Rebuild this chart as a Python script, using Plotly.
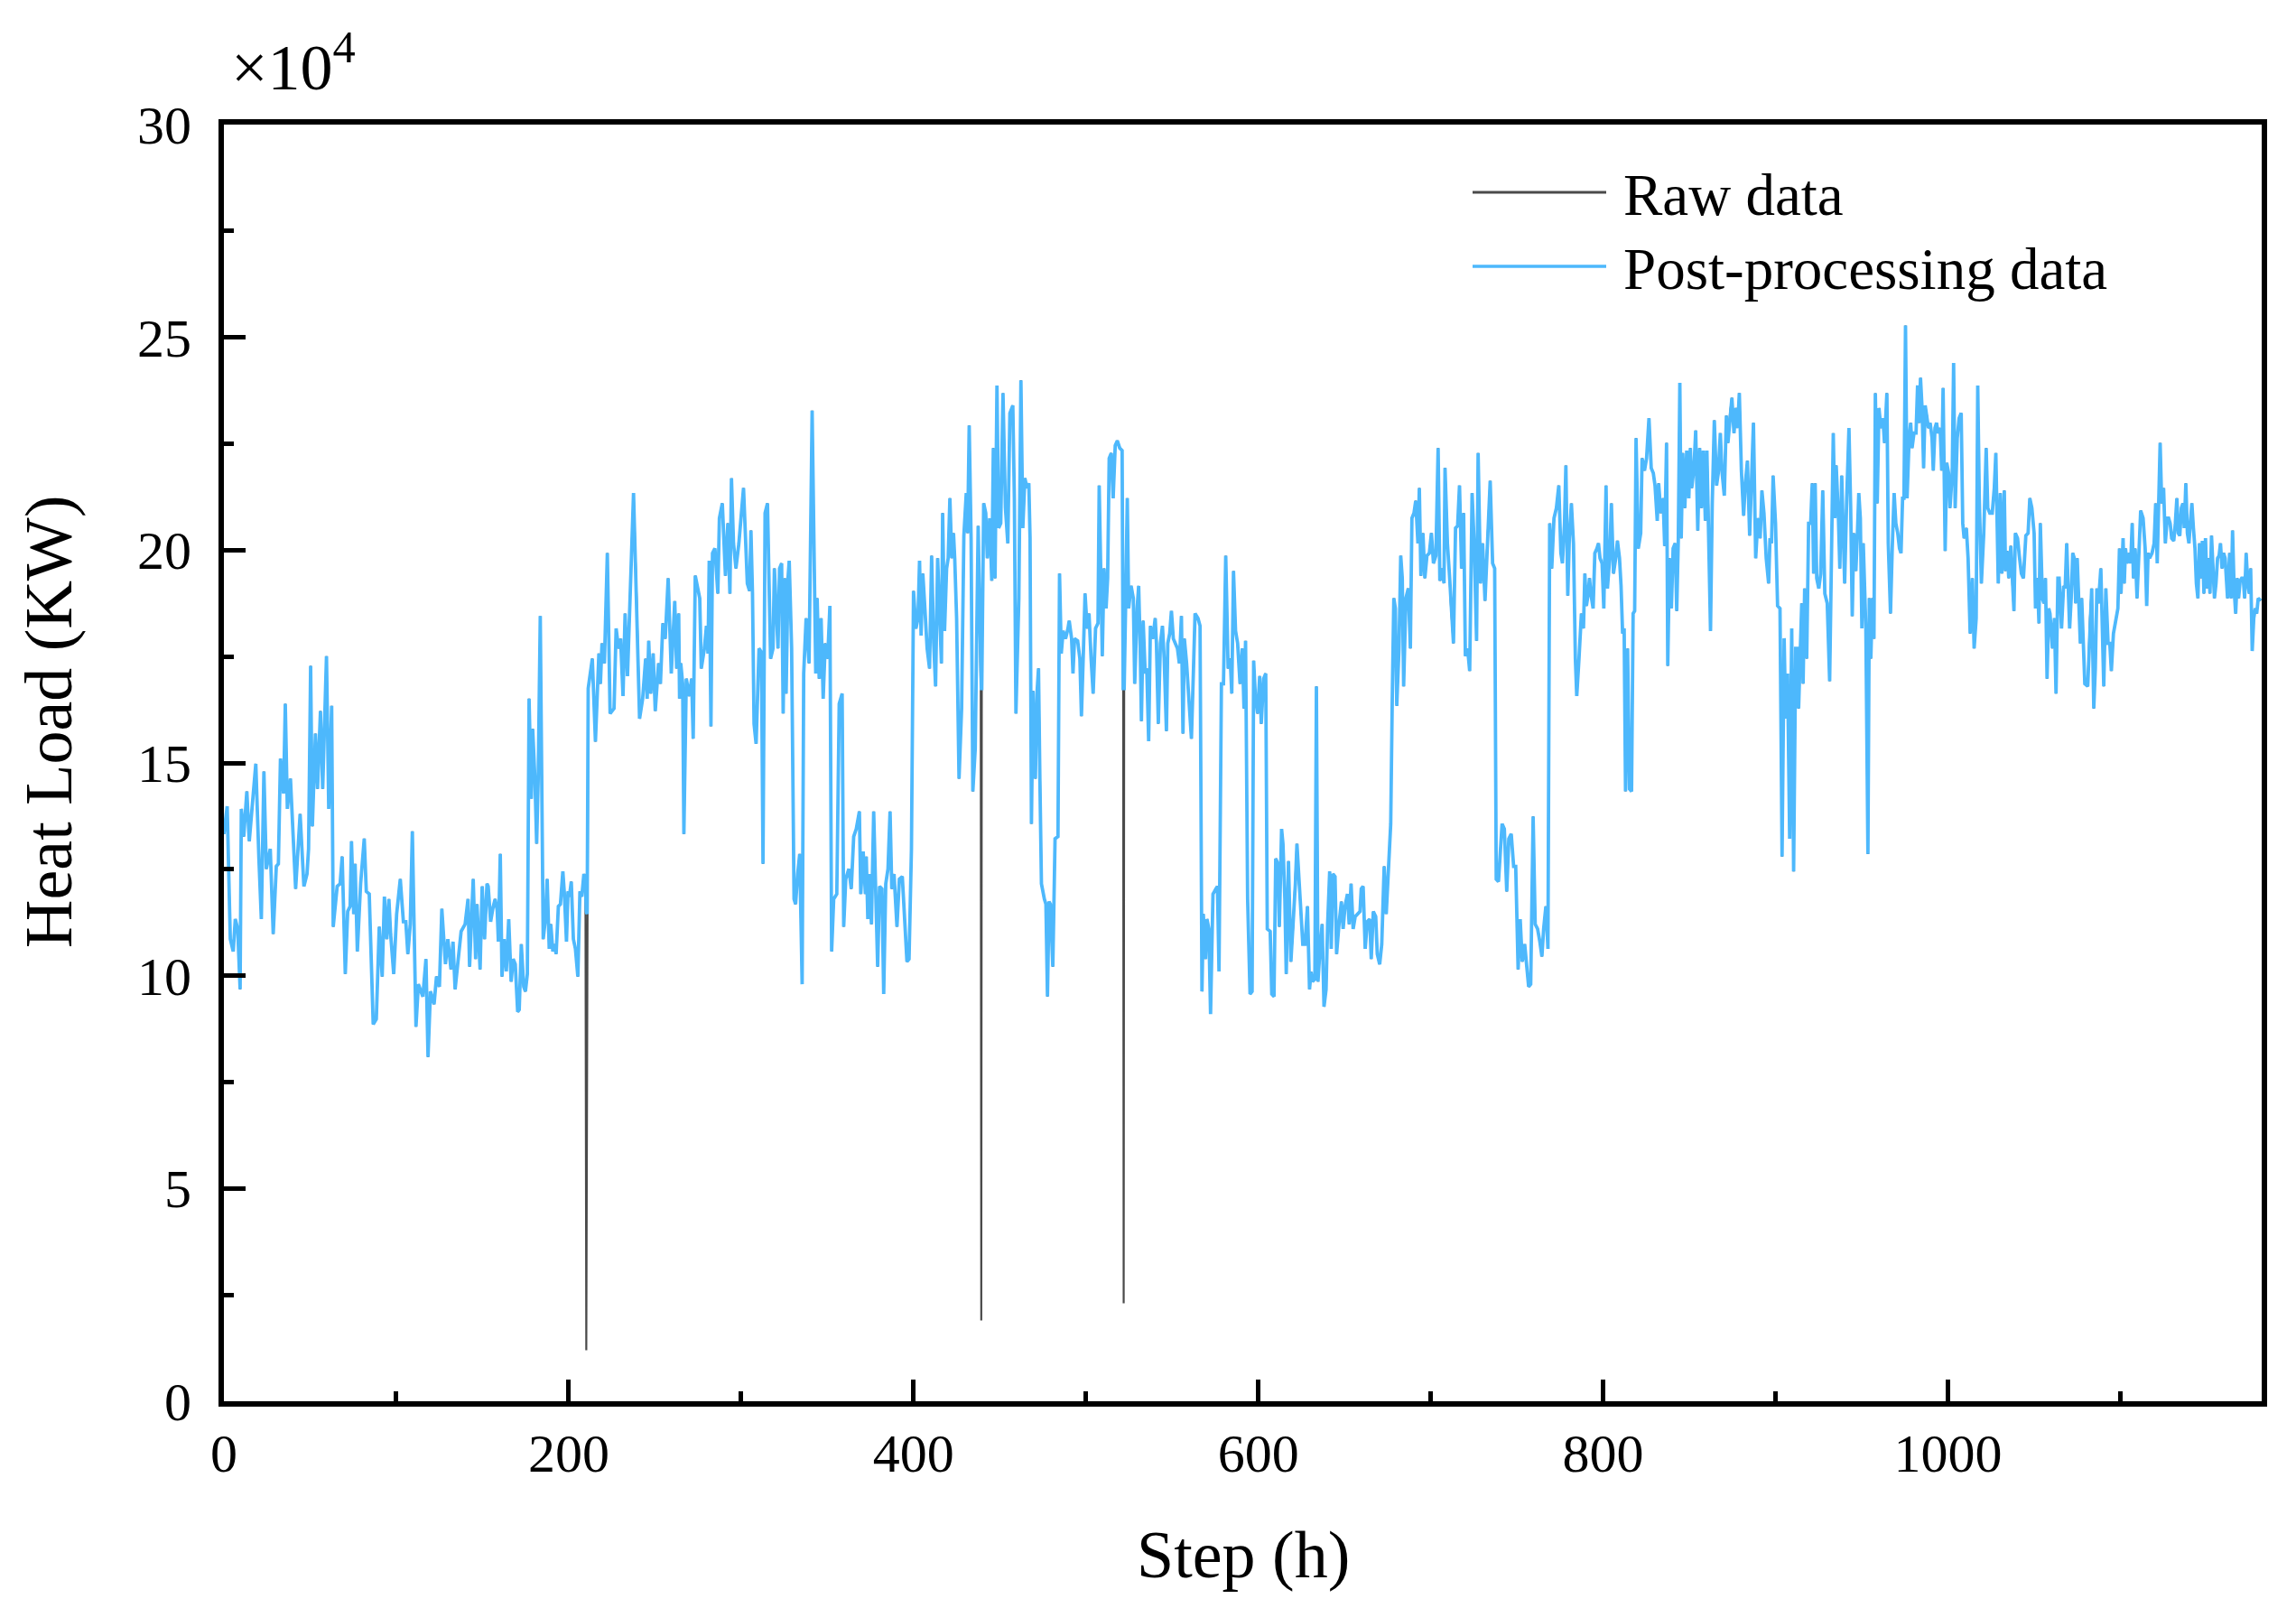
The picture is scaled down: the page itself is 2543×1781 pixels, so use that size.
import plotly.graph_objects as go

# Step (h) positions
steps = [
    0, 1.9, 3.7, 5.4, 6.6, 8.0, 9.4, 10.1, 11.5, 13.3, 14.7, 16.4, 18.5, 20.3, 21.7, 23.2, 24.6, 26.9, 28.6, 30.4,
    31.6, 32.8, 34.6, 35.6, 36.8, 38.6, 39.8, 41.6, 44.2, 46.4, 48.2, 49.1, 50.3, 51.3, 53.1, 54.3, 56.0, 57.3, 59.5, 60.8,
    62.5, 63.4, 65.7, 67.4, 68.6, 70.4, 71.8, 73.2, 74.0, 75.3, 76.1, 77.4, 79.3, 81.4, 82.6, 84.3, 86.6, 88.4, 90.1, 91.8,
    93.1, 94.5, 95.7, 96.7, 98.5, 100.2, 102.3, 104.1, 105.5, 106.7, 108.1, 109.3, 111.4, 112.8, 115.4, 117.2, 118.4, 119.8, 121.9, 123.3,
    125.0, 126.4, 128.5, 129.9, 131.7, 132.9, 134.1, 135.5, 137.6, 139.9, 141.6, 142.5, 144.6, 146.0, 146.8, 148.6, 149.8, 151.2, 152.6,
    153.3, 154.7, 156.1, 157.3, 158.5, 159.2, 160.3, 161.3, 162.5, 163.8, 165.2, 166.6, 167.8, 169.0, 170.4, 171.3, 172.5, 173.9, 174.9, 176.0,
    177.0, 178.3, 179.1, 180.4, 181.4, 182.3, 183.5, 184.4, 185.2, 186.5, 187.5, 188.7, 189.6, 190.8, 191.9, 192.7, 194.0, 195.2, 196.6, 197.5,
    198.7, 199.6, 200.4, 201.5, 202.7, 203.9, 205.3, 206.5, 207.6, 208.8, 209.7, 210.2, 210.7, 211.3, 213.7, 215.5, 217.5, 218.4, 219.3, 220.7,
    222.4, 224.0, 226.3, 227.5, 228.9, 230.1, 231.5, 232.7, 234.1, 237.6, 239.4, 241.1, 242.9, 244.6, 245.5, 246.4, 247.6, 249.0, 250.2, 252.1,
    253.2, 254.6, 256.0, 257.7, 259.5, 261.5, 262.6, 263.8, 264.3, 265.0, 266.1, 266.8, 268.2, 269.9, 271.3, 272.2, 273.4, 276.0, 276.9, 278.7,
    279.9, 280.8, 281.5, 282.5, 283.4, 284.8, 286.5, 287.4, 289.1, 290.9, 292.3, 293.5, 294.4, 295.6, 297.0, 298.7, 301.4, 303.6, 304.9,
    305.7, 306.6, 307.5, 308.7, 310.4, 311.8, 312.7, 313.9, 315.3, 317.1, 318.5, 319.3, 320.6, 321.4, 322.3, 323.5, 324.4, 325.4, 326.1, 327.2,
    327.9, 329.3, 330.7, 331.6, 332.8, 334.0, 335.4, 336.3, 337.7, 339.4, 341.2, 342.4, 343.3, 344.1, 345.3, 346.4, 347.6, 348.8, 350.2, 351.5,
    352.5, 353.7, 355.5, 356.9, 358.6, 359.5, 360.7, 362.5, 363.9, 365.3, 366.8, 368.6, 369.4, 370.8, 372.1, 372.6, 373.5, 374.3, 375.6, 376.9,
    378.2, 379.2, 380.3, 381.7, 382.7, 383.9, 385.2, 386.4, 387.4, 388.7, 390.4, 391.8, 393.5, 394.8, 396.2, 397.4, 398.8, 400.0, 401.4, 402.6,
    403.5, 404.4, 405.4, 406.6, 407.9, 409.3, 410.5, 411.7, 412.8, 414.0, 415.2, 416.2, 416.9, 418.0, 419.2, 420.1, 421.1, 422.2, 423.2, 423.9,
    425.0, 426.4, 427.9, 429.2, 430.6, 431.4, 432.3, 433.4, 434.4, 435.8, 437.5, 439.0, 439.3, 439.6, 440.7, 441.9, 442.8, 444.2, 445.4, 446.3,
    447.3, 448.4, 449.4, 450.6, 451.9, 453.3, 454.7, 455.9,
    457.6, 458.5, 459.4, 461.1, 462.3, 463.4, 464.6, 465.8, 466.9, 467.6, 468.4, 469.3, 470.7, 471.6, 472.5, 473.3, 474.2, 475.9, 476.8, 477.7,
    478.6, 479.4, 480.8, 482.1, 483.8, 484.7, 485.7, 486.8, 488.2, 489.6, 490.3, 491.7, 492.5, 493.4, 495.2, 496.5, 497.4, 498.6, 499.5, 500.7,
    501.8, 503.0, 504.2, 505.6, 507.0, 507.7, 508.8, 509.5, 510.5, 511.7, 512.6, 513.5, 514.7, 515.8, 517.0, 518.2, 519.6, 521.0, 521.6, 521.9,
    522.2, 523.0, 524.0, 524.8, 526.2, 527.5, 528.3, 529.7, 530.6, 531.5, 532.2, 533.2, 534.4, 535.3, 536.4, 537.4, 538.8, 540.2, 540.9, 542.0,
    543.2, 544.4, 545.4, 546.7, 547.5, 548.6, 549.6, 550.7, 551.9, 553.1, 554.2, 555.4, 556.3, 557.1, 558.4, 559.8, 561.2, 562.4, 563.3, 565.0,
    566.2, 567.3, 568.1, 569.4, 570.2, 571.3, 572.3, 573.7, 575.1, 576.3, 577.2, 578.6, 579.8, 581.1, 582.5, 583.7, 584.6, 585.6, 586.8, 588.0,
    589.4, 590.7, 591.7, 592.6, 593.8, 595.2, 596.4, 597.3, 598.2, 599.6, 600.8, 601.7, 603.1, 604.3, 605.2, 606.9, 607.8,
    609.1, 610.1, 611.4, 612.2, 613.5, 614.3, 615.4, 616.2, 617.5, 618.9, 620.1, 621.5, 622.4, 623.6, 624.8, 625.8, 627.1, 628.5, 629.7, 630.6,
    631.4, 632.8, 633.7, 634.6, 635.8, 637.0, 638.1, 639.3, 640.2, 641.4, 642.3, 643.3, 644.5, 645.4, 646.8, 648.2, 649.2, 650.3, 651.7, 652.7,
    653.8, 655.0, 656.2, 657.6, 659.0, 659.7, 660.8, 662.0, 663.2, 664.6, 665.5, 666.7, 668.1, 669.0, 670.4, 671.6, 673.0, 674.2, 675.4, 676.8,
    677.7, 678.6, 679.5, 680.3, 681.6, 682.6, 683.5, 684.3, 685.6, 687.0, 688.2, 689.1, 690.3, 691.3, 692.6, 693.4, 694.3, 695.5, 696.6, 697.8,
    699.2, 700.4, 701.6, 703.0, 704.3, 705.3, 706.5, 707.7, 708.3, 709.7, 710.9, 711.8, 713.2, 714.4, 715.6, 716.7, 717.9, 719.1, 720.1, 721.4,
    722.6, 724.0, 725.2, 726.6, 727.5, 728.9, 730.1, 731.5, 732.7, 734.5, 735.9, 737.1, 738.0, 739.3, 741.4, 742.7, 744.1, 745.3, 746.7, 748.1,
    749.3, 750.7, 751.9, 753.1, 754.5, 755.4, 756.8, 758.0, 759.4,
    760.6, 762.0, 763.3, 764.5, 765.5, 766.8, 768.0, 769.0, 770.2, 771.5, 772.9, 774.3, 775.5, 776.4, 777.6, 778.4, 779.5, 780.4, 781.6, 782.8,
    783.9, 784.7, 786.0, 787.4, 788.6, 789.4, 790.3, 791.2, 792.1, 792.9, 794.2, 795.2, 796.4, 797.3, 798.2, 799.4, 800.4, 801.7, 802.5, 803.8,
    804.8, 806.0, 807.3, 808.3, 809.5, 810.4, 811.3, 812.2, 813.0, 814.2, 815.3, 816.5, 817.4, 818.3, 819.1, 820.4, 821.8, 822.6, 824.0, 825.2,
    826.6, 827.9, 829.1, 830.1, 831.4, 832.2, 833.5, 834.8, 835.7, 836.8, 837.5, 838.5, 839.6, 840.6, 841.8, 842.7, 843.6, 844.5, 845.3, 846.2,
    847.4, 848.5, 849.7, 850.6, 851.4, 852.7, 853.7, 854.9, 856.0, 857.0, 858.1, 859.3, 860.2, 861.0, 862.3, 863.3, 864.5, 865.8, 866.8, 868.0,
    868.9, 870.3, 871.5, 872.4, 873.6, 874.7, 875.9, 877.1, 878.0, 879.0, 880.2, 881.5, 882.5, 883.7, 885.0, 886.0, 887.2, 888.5, 889.8, 891.1,
    892.1, 893.3, 894.6, 896.0, 896.8, 897.7, 898.6, 900.0, 901.2, 902.6, 903.8, 905.0, 905.9, 907.0, 908.2, 909.4, 910.5, 911.7,
    912.5, 913.4, 914.3, 915.2, 916.0, 916.9, 918.1, 919.2, 920.4, 921.3, 922.1, 923.0, 923.9, 925.1, 926.2, 927.4, 928.6, 930.0, 931.4, 932.6,
    933.5, 934.4, 935.2, 936.5, 937.3, 938.4, 939.3, 940.1, 941.3, 942.6, 943.6, 944.5, 945.4, 946.6, 947.5, 948.3, 949.2, 950.1, 950.9, 952.4,
    953.6, 954.4, 955.3, 956.2, 957.1, 957.9, 959.0, 960.0, 961.1, 962.3, 963.2, 964.6, 965.4, 966.7, 967.7, 968.8, 969.8, 970.9, 971.9, 972.8,
    973.7, 974.5, 975.4, 976.3, 977.5, 978.4, 979.2, 980.3, 981.5, 982.4, 983.3, 984.1, 985.0, 985.9, 986.8, 987.6, 988.7, 989.7, 990.8, 991.5,
    992.5, 993.4, 994.3, 995.5, 996.4, 997.2, 998.4, 999.3, 1000.4, 1001.2, 1002.5, 1003.3, 1004.2, 1005.4, 1006.5, 1007.7, 1008.6, 1009.4, 1010.7, 1011.7,
    1012.9, 1014.2, 1015.2, 1016.4, 1017.3, 1018.2, 1019.4, 1020.8, 1022.2, 1023.1, 1024.3, 1025.7, 1026.9, 1027.8, 1029.2, 1030.4, 1031.3, 1032.7, 1033.4, 1034.4,
    1035.3, 1036.5, 1037.4, 1038.3, 1039.1, 1040.4, 1041.4, 1042.6, 1043.8, 1045.2, 1046.5, 1047.5, 1048.7, 1050.0, 1050.8, 1051.9, 1052.8, 1053.6, 1054.8, 1055.7,
    1056.6, 1057.5, 1058.5, 1059.2, 1060.6, 1061.8, 1062.7, 1063.8,
    1064.5, 1065.9, 1067.1, 1068.0, 1068.9, 1069.8, 1070.6, 1071.5, 1072.4, 1073.3, 1074.1, 1075.0, 1075.9, 1076.8, 1077.6, 1078.5, 1079.4, 1081.1, 1082.4, 1083.4,
    1084.6, 1085.5, 1086.4, 1087.3, 1088.7, 1089.4, 1090.4, 1091.6, 1092.9, 1093.9, 1094.8, 1096.0, 1097.4, 1098.6, 1099.5, 1100.4, 1101.6, 1102.3, 1103.0, 1103.9,
    1105.1, 1106.0, 1106.9, 1107.6, 1108.6, 1109.7, 1110.9, 1111.8, 1113.2, 1114.4, 1115.3, 1116.1, 1117.0, 1118.4, 1119.6, 1120.5, 1121.4, 1122.3, 1123.1, 1124.0,
    1125.1, 1126.1, 1127.2, 1128.0, 1128.9, 1129.8, 1131.0, 1131.9, 1132.8, 1133.6, 1134.5, 1135.4, 1136.3, 1137.1, 1138.0, 1138.9, 1139.8, 1140.6, 1141.5, 1142.4,
    1143.3, 1144.1, 1145.0, 1145.9, 1146.8, 1147.6, 1148.5, 1149.4, 1150.3, 1151.1, 1152.0, 1152.9, 1153.8, 1154.6, 1155.5, 1156.4, 1157.3, 1158.1, 1159.0, 1159.9,
    1160.8, 1162.2, 1163.4, 1164.3, 1165.1, 1166.0, 1166.9, 1167.8, 1168.6, 1169.5, 1170.4, 1171.3, 1172.1, 1173.0, 1173.9, 1174.8, 1175.6, 1176.5, 1177.4, 1178.3,
    1179.1, 1180.0, 1181.4,
]

# Post-processing heat load (x10^4 kW), read at the steps above
heat_load = [
    13.33, 13.98, 10.86, 10.57, 11.33, 11.1, 9.68, 13.92, 13.27, 14.33, 13.16, 13.92, 14.98, 12.75, 11.33, 14.8, 12.51, 12.98, 10.98, 12.57,
    12.63, 15.1, 14.28, 16.39, 13.92, 14.63, 13.45, 12.04, 13.8, 12.1, 12.39, 12.98, 17.28, 13.51, 15.69, 14.39, 16.22, 14.39, 17.51, 13.92,
    16.34, 11.15, 12.1, 12.16, 12.8, 10.04, 11.51, 11.63, 13.16, 11.45, 12.63, 10.57, 12.16, 13.22, 11.98, 11.92, 8.86, 8.98, 11.15, 9.98,
    11.86, 10.86, 11.8, 10.98, 10.04, 11.45, 12.27, 11.27, 11.27, 10.51, 11.21, 13.39, 8.8, 9.8, 9.51, 10.39, 8.09, 9.63, 9.33, 9.98,
    9.74, 11.57, 10.27, 10.86, 10.15, 10.8, 9.68, 10.21, 11.04, 11.21, 11.8, 10.21, 12.27, 10.39, 11.68, 10.15, 12.1, 10.86, 12.16,
    12.1, 11.27, 11.6, 11.8, 11.55, 10.8, 12.86, 9.98, 10.86, 10.1, 11.33, 9.86, 10.39, 10.27, 9.15, 9.2, 10.74, 9.74, 9.63, 10.04,
    16.51, 14.16, 15.8, 14.63, 13.1, 14.63, 18.45, 14.16, 10.86, 11.33, 12.27, 10.63, 11.21, 10.57, 10.74, 10.51, 11.63, 11.68, 12.45, 11.92,
    10.8, 11.98, 11.86, 12.21, 10.86, 10.63, 9.98, 11.98, 11.86, 12.39, 12.16, 11.5, 11.45, 16.75, 17.45, 15.5, 17.57, 16.86, 17.81, 17.34,
    19.93, 16.16, 16.28, 18.16, 17.69, 17.92, 16.57, 18.51, 17.04, 21.34, 18.87, 16.04, 16.51, 17.45, 16.51, 17.87, 16.63, 17.57, 16.22, 17.34,
    16.86, 18.28, 17.92, 19.34, 17.1, 18.8, 17.22, 18.51, 16.51, 17.34, 16.86, 13.33, 16.98, 16.57, 16.98, 15.57, 19.4, 18.87, 17.22, 17.69,
    18.22, 17.57, 19.75, 15.86, 19.93, 20.04, 18.98, 20.75, 21.1, 19.4, 20.63, 18.98, 21.69, 20.16, 19.57, 20.16, 21.46, 19.22, 19.04,
    20.46, 18.98, 15.92, 15.45, 17.69, 17.6, 12.63, 20.87, 21.1, 17.45, 17.69, 19.57, 18.28, 17.69, 19.57, 19.69, 16.16, 19.34, 16.63, 19.34,
    19.75, 17.69, 11.8, 11.68, 12.39, 12.86, 9.8, 17.1, 18.4, 17.34, 23.28, 18.98, 17.1, 18.87, 16.98, 18.4, 16.51, 17.81, 17.45, 18.69,
    10.57, 11.8, 11.92, 16.39, 16.63, 11.15, 12.27, 12.51, 12.04, 13.27, 13.45, 13.86, 11.92, 12.92, 11.92, 12.8, 11.33, 12.39, 11.21, 13.86,
    12.04, 10.21, 12.1, 12.04, 9.57, 12.16, 12.51, 13.86, 12.04, 12.39, 11.15, 12.27, 12.33, 11.21, 10.33, 10.39, 12.98, 19.04, 18.16, 18.4,
    19.75, 17.99, 19.45, 18.63, 17.69, 17.22, 19.87, 17.81, 16.8, 19.81, 18.4, 17.34, 20.87, 18.1, 19.57, 19.81, 21.22, 19.81, 20.4, 19.81,
    18.4, 14.63, 16.28, 20.34, 21.34, 20.4, 22.93, 20.28, 14.33, 15.33, 20.57, 16.75, 16.75, 16.75, 21.1, 20.87, 19.81, 20.75, 19.28, 22.4,
    19.34, 23.87, 20.52, 20.63, 23.69, 21.0, 20.16, 23.22,
    23.4, 21.22, 16.16, 18.87, 23.99, 20.52, 21.69, 21.46, 21.57, 20.28, 13.57, 16.69, 14.63, 16.63, 17.22, 14.63, 12.16, 11.8, 11.68, 9.51,
    11.74, 11.68, 10.21, 13.22, 13.27, 19.45, 17.57, 18.1, 17.92, 18.16, 18.34, 17.92, 17.1, 17.92, 17.87, 17.45, 16.1, 17.69, 18.98, 18.16,
    18.51, 17.45, 16.63, 18.16, 18.28, 21.52, 19.51, 17.51, 19.57, 18.63, 19.34, 22.16, 22.28, 21.22, 22.46, 22.57, 22.4, 22.34, 16.75, 16.75,
    16.75, 18.63, 21.22, 18.63, 19.16, 18.87, 16.86, 18.63, 19.16, 17.69, 15.98, 18.34, 17.1, 17.22, 15.51, 18.22, 17.92, 18.4, 17.81, 15.92,
    17.81, 18.22, 17.45, 15.75, 17.81, 18.04, 18.57, 17.92, 17.81, 17.69, 17.34, 18.45, 15.69, 17.92, 17.34, 16.51, 15.57, 17.22, 18.51, 18.4,
    18.22, 9.63, 11.45, 10.39, 11.33, 11.1, 9.1, 11.92, 12.04, 12.1, 10.1, 16.86, 16.86, 19.87, 17.22, 17.45, 16.63, 19.51, 18.1, 17.81,
    16.86, 17.69, 16.28, 17.87, 11.8, 9.57, 9.63, 17.4, 16.63, 16.16, 17.04, 15.92, 16.98, 17.1, 11.1, 11.04, 9.57,
    9.51, 12.75, 12.63, 11.15, 13.45, 13.1, 11.8, 10.04, 12.69, 10.33, 11.1, 12.16, 13.1, 12.22, 11.45, 10.74, 10.74, 11.63, 9.68, 10.09,
    9.86, 9.92, 16.8, 9.86, 10.63, 11.21, 9.27, 9.68, 11.21, 12.45, 10.63, 12.39, 12.33, 10.51, 11.21, 11.74, 11.1, 11.63, 11.92, 11.21,
    12.16, 11.1, 11.39, 11.45, 11.51, 12.04, 12.1, 10.63, 11.27, 11.33, 10.39, 11.51, 11.39, 10.51, 10.27, 10.74, 12.57, 11.45, 12.51, 13.57,
    16.51, 18.87, 18.63, 16.34, 17.69, 19.87, 19.34, 16.8, 18.87, 19.1, 17.69, 20.75, 20.87, 21.16, 20.16, 21.46, 19.4, 20.4, 19.34, 19.87,
    19.93, 20.4, 19.69, 19.87, 22.4, 19.28, 19.57, 19.22, 21.93, 20.16, 19.4, 18.63, 17.81, 20.52, 20.57, 21.52, 19.57, 20.87, 17.51, 17.69,
    17.16, 21.34, 20.16, 17.87, 22.28, 19.22, 20.16, 18.81, 20.04, 21.63, 19.69, 19.57, 12.27, 12.21, 13.57, 13.45, 11.98, 13.22, 13.33, 12.57,
    12.57, 10.15, 11.33, 10.33, 10.74, 10.39, 9.74, 9.8, 13.74,
    11.21, 11.1, 10.8, 10.45, 11.1, 11.63, 10.63, 20.63, 19.57, 20.75, 20.99, 21.52, 19.93, 19.69, 20.63, 21.99, 18.93, 20.28, 21.1, 20.16,
    17.45, 16.57, 17.45, 18.51, 18.16, 19.45, 18.69, 18.93, 19.34, 18.98, 18.63, 19.93, 20.04, 20.16, 19.81, 19.69, 18.63, 21.52, 19.1, 19.81,
    21.1, 19.45, 19.81, 20.22, 19.81, 19.16, 18.04, 18.16, 14.33, 17.69, 14.39, 14.33, 18.51, 18.57, 22.63, 20.04, 20.4, 22.16, 21.87, 22.16,
    23.1, 21.93, 21.81, 21.52, 20.69, 21.57, 20.87, 21.22, 20.1, 22.52, 17.28, 19.81, 18.63, 20.04, 20.16, 18.57, 20.22, 23.93, 20.28, 22.28,
    20.99, 22.34, 21.22, 22.4, 21.46, 21.93, 22.81, 20.46, 22.4, 20.99, 22.34, 20.69, 22.34, 20.99, 18.1, 21.1, 23.05, 21.52, 21.81, 22.75,
    21.87, 21.28, 23.16, 22.52, 23.22, 23.58, 22.75, 23.34, 22.87, 23.69, 21.87, 20.81, 21.57, 22.1, 20.34, 21.69, 22.99, 19.81, 20.75, 20.28,
    21.4, 20.87, 19.81, 19.22, 20.28, 20.16, 21.75, 20.63, 18.69, 18.63, 12.8, 17.93, 16.04, 17.1, 13.22, 18.16, 12.45, 17.69,
    17.69, 16.28, 17.81, 18.75, 16.86, 19.1, 17.45, 20.63, 20.63, 21.57, 19.45, 21.57, 19.34, 19.1, 19.45, 21.4, 18.98, 18.75, 16.92, 20.99,
    22.75, 20.75, 21.99, 20.75, 19.57, 21.75, 20.63, 19.22, 21.22, 22.87, 20.99, 18.45, 20.4, 19.51, 20.4, 21.34, 20.75, 18.16, 20.16, 18.16,
    12.86, 18.87, 17.45, 18.87, 17.92, 23.69, 21.1, 23.34, 22.87, 23.1, 22.52, 23.69, 20.16, 18.51, 20.04, 21.34, 20.63, 20.4, 20.04, 19.93,
    21.22, 21.22, 25.28, 21.22, 22.63, 22.99, 22.4, 22.75, 22.75, 23.87, 22.99, 24.05, 23.34, 21.93, 23.4, 23.22, 22.87, 22.99, 22.63, 21.87,
    22.87, 22.99, 22.75, 22.87, 21.87, 23.81, 19.98, 22.05, 21.81, 20.99, 21.81, 24.4, 20.99, 22.63, 23.1, 23.22, 20.63, 20.28, 20.52, 19.81,
    18.04, 19.34, 17.69, 18.4, 23.87, 21.22, 19.22, 20.4, 22.4, 20.99, 20.87, 20.87, 21.46, 22.28, 19.22, 21.34, 19.45, 21.4, 19.51, 19.98,
    19.34, 20.1, 19.22, 18.57, 20.4, 20.28, 19.87, 19.45, 19.34, 20.34, 20.4, 21.22, 20.99, 20.4, 18.63, 19.34, 18.28, 20.63, 18.87, 18.75,
    19.34, 16.98, 18.63, 18.51, 17.69, 18.4, 16.63, 19.34,
    19.34, 18.16, 19.16, 19.1, 20.16, 19.1, 18.16, 18.87, 19.93, 19.81, 18.75, 19.81, 18.87, 17.81, 18.87, 17.69, 16.86, 16.8, 18.4, 19.1,
    16.28, 17.22, 19.1, 18.75, 19.57, 18.4, 16.8, 19.1, 17.81, 17.81, 17.16, 18.04, 18.4, 18.63, 20.04, 18.98, 20.28, 19.22, 20.04, 19.69,
    19.93, 19.69, 20.63, 19.34, 20.04, 18.87, 20.04, 20.93, 20.75, 20.04, 18.69, 19.93, 19.81, 19.93, 20.16, 21.1, 19.69, 21.1, 22.52, 21.1,
    21.46, 20.16, 20.75, 20.75, 20.63, 20.28, 20.22, 20.63, 21.22, 20.4, 20.34, 20.99, 21.1, 20.52, 21.57, 20.4, 20.16, 20.63, 21.1, 20.52,
    20.04, 19.22, 18.87, 20.16, 19.34, 20.22, 18.98, 20.28, 19.1, 19.81, 18.98, 20.34, 19.45, 18.87, 19.22, 19.81, 19.87, 20.16, 19.57, 19.93,
    19.81, 18.87, 19.93, 18.87, 20.46, 19.1, 18.51, 19.34, 18.87, 19.28, 19.34, 19.34, 18.87, 19.93, 19.22, 18.98, 19.57, 17.63, 18.4, 18.63,
    18.51, 18.87, 18.81,
]

# Outliers present only in the raw data
outlier_steps = [210.2, 439.3, 521.9]
outlier_values = [1.2, 1.9, 2.3]

raw_data = list(heat_load)
for s, v in zip(outlier_steps, outlier_values):
    raw_data[steps.index(s)] = v

FONT = "Liberation Serif"
BLUE = "#4DB8FC"
GRAY = "#4A4A4A"

fig = go.Figure()
fig.add_trace(go.Scatter(x=steps, y=raw_data, mode="lines", name="Raw data",
                         line=dict(color=GRAY, width=2.2), showlegend=False))
fig.add_trace(go.Scatter(x=steps, y=heat_load, mode="lines", name="Post-processing data",
                         line=dict(color=BLUE, width=3.8), showlegend=False))

# page body adds an 8 px offset; figure is sized to fit inside it
OFF = 8
W, H = 2527, 1765
L, T = 248 - OFF, 138 - OFF
R = W - (2505 - OFF)
B = H - (1552 - OFF)
pw, ph = W - L - R, H - T - B

def px(xp):
    return (xp - OFF - L) / pw

def py(yp):
    return (H - B - (yp - OFF)) / ph

axis_common = dict(
    showgrid=False, zeroline=False, showline=True, linecolor="black", linewidth=6,
    mirror=True, ticks="inside", tickcolor="black", tickwidth=4.5, ticklen=24,
    tickfont=dict(family=FONT, size=60, color="black"),
)

fig.update_layout(
    width=W, height=H,
    margin=dict(l=L, r=R, t=T, b=B),
    paper_bgcolor="white", plot_bgcolor="white",
    showlegend=False,
    xaxis=dict(range=[0, 1182], tick0=0, dtick=200,
               minor=dict(dtick=100, ticks="inside", ticklen=11, tickwidth=4.5, tickcolor="black"),
               **axis_common),
    yaxis=dict(range=[0, 30], tick0=0, dtick=5, ticklabelstandoff=18,
               minor=dict(dtick=2.5, ticks="inside", ticklen=11, tickwidth=4.5, tickcolor="black"),
               **axis_common),
)

annotations = [
    dict(text="Step (h)", x=0.5, y=py(1722), xref="paper", yref="paper",
         xanchor="center", yanchor="middle", showarrow=False,
         font=dict(family=FONT, size=74, color="black")),
    dict(text="Heat Load (KW)", x=px(54), y=py(800), xref="paper", yref="paper",
         xanchor="center", yanchor="middle", textangle=-90, showarrow=False,
         font=dict(family=FONT, size=74, color="black")),
    dict(text="×10<sup>4</sup>", x=px(254), y=py(70), xref="paper", yref="paper",
         xanchor="left", yanchor="middle", showarrow=False,
         font=dict(family=FONT, size=72, color="black")),
    dict(text="Raw data", x=px(1796), y=py(216), xref="paper", yref="paper",
         xanchor="left", yanchor="middle", showarrow=False,
         font=dict(family=FONT, size=65, color="black")),
    dict(text="Post-processing data", x=px(1796), y=py(298), xref="paper", yref="paper",
         xanchor="left", yanchor="middle", showarrow=False,
         font=dict(family=FONT, size=65, color="black")),
]
fig.update_layout(annotations=annotations)

fig.add_shape(type="line", xref="paper", yref="paper", x0=px(1631), x1=px(1779),
              y0=py(213), y1=py(213), line=dict(color=GRAY, width=3))
fig.add_shape(type="line", xref="paper", yref="paper", x0=px(1631), x1=px(1779),
              y0=py(295), y1=py(295), line=dict(color=BLUE, width=3.5))

fig.write_html("out.html")
